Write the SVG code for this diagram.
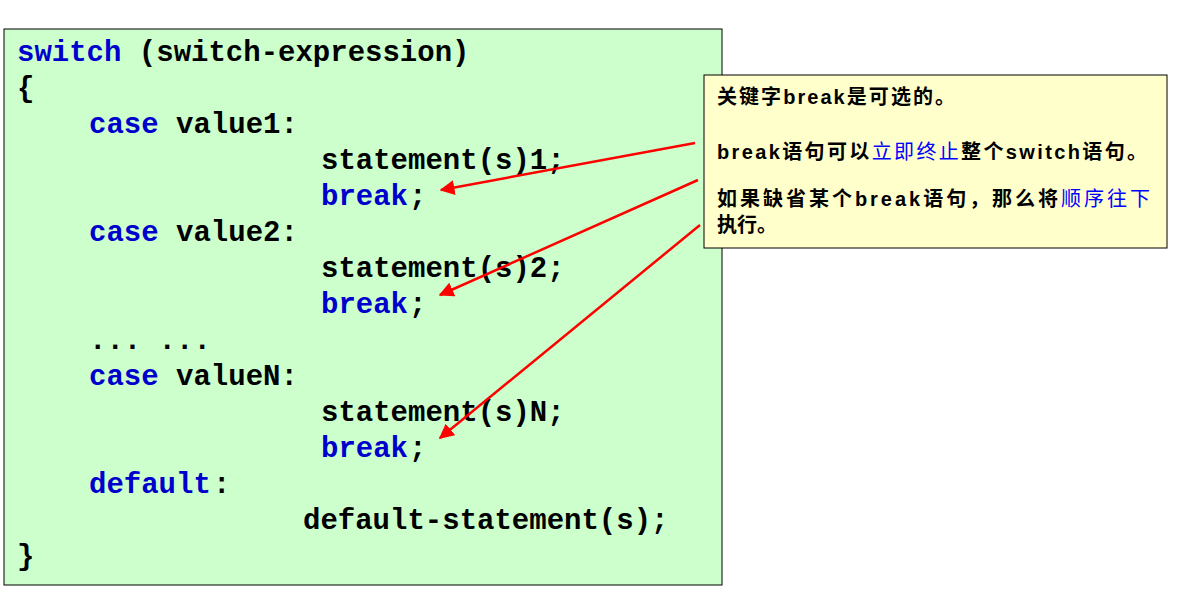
<svg xmlns="http://www.w3.org/2000/svg" width="1187" height="605" viewBox="0 0 1187 605">
<style>
.c{font-family:"Liberation Mono",monospace;font-weight:bold;font-size:29px;fill:#000}
.k{fill:#0000cc}
.n{font-family:"Liberation Sans","Noto Sans CJK SC",sans-serif;font-weight:bold;font-size:20px;fill:#000}
.b{fill:#0000ff;font-weight:normal}
.a{stroke:#ff0000;stroke-width:2.5;fill:none}
</style>
<defs>
<marker id="ah2" viewBox="0 0 10 10" refX="9" refY="5" markerWidth="6" markerHeight="6" orient="auto"><path d="M0,0L10,5L0,10z" fill="#ff0000"/></marker></defs>
<g id="code">
<rect x="4" y="29" width="718" height="556" fill="#ccffcc" stroke="#000" stroke-width="1"/>
<text class="c" x="17" y="61"><tspan class="k">switch</tspan> (switch-expression)</text>
<text class="c" x="17" y="97">{</text>
<text class="c" x="89" y="133"><tspan class="k">case</tspan> value1:</text>
<text class="c" x="321" y="169">statement(s)1;</text>
<text class="c k" x="321" y="205">break</text><text class="c" x="409" y="205">;</text>
<text class="c" x="89" y="241"><tspan class="k">case</tspan> value2:</text>
<text class="c" x="321" y="277">statement(s)2;</text>
<text class="c k" x="321" y="313">break</text><text class="c" x="409" y="313">;</text>
<text class="c" x="89" y="349">... ...</text>
<text class="c" x="89" y="385"><tspan class="k">case</tspan> valueN:</text>
<text class="c" x="321" y="421">statement(s)N;</text>
<text class="c k" x="321" y="457">break</text><text class="c" x="409" y="457">;</text>
<text class="c k" x="89" y="493">default</text><text class="c" x="213" y="493">:</text>
<text class="c" x="303" y="529">default-statement(s);</text>
<text class="c" x="17" y="565">}</text>
</g>
<g id="note">
<rect x="704" y="75" width="463" height="173" fill="#ffffcc" stroke="#000" stroke-width="1"/>
<text class="n" x="717" y="104" textLength="238" lengthAdjust="spacing">关键字break是可选的。</text>
<text class="n" x="717" y="159" textLength="430" lengthAdjust="spacing">break语句可以<tspan class="b">立即终止</tspan>整个switch语句。</text>
<text class="n" x="717" y="206" textLength="433" lengthAdjust="spacing">如果缺省某个break语句，那么将<tspan class="b">顺序往下</tspan></text>
<text class="n" x="717" y="232" textLength="60" lengthAdjust="spacing">执行。</text>
</g>
<g id="connectors">
<line class="a" x1="695" y1="143" x2="441" y2="190" marker-end="url(#ah2)"/>
<line class="a" x1="698" y1="180" x2="440" y2="295" marker-end="url(#ah2)"/>
<line class="a" x1="700" y1="225" x2="440" y2="438" marker-end="url(#ah2)"/>
</g>
</svg>
